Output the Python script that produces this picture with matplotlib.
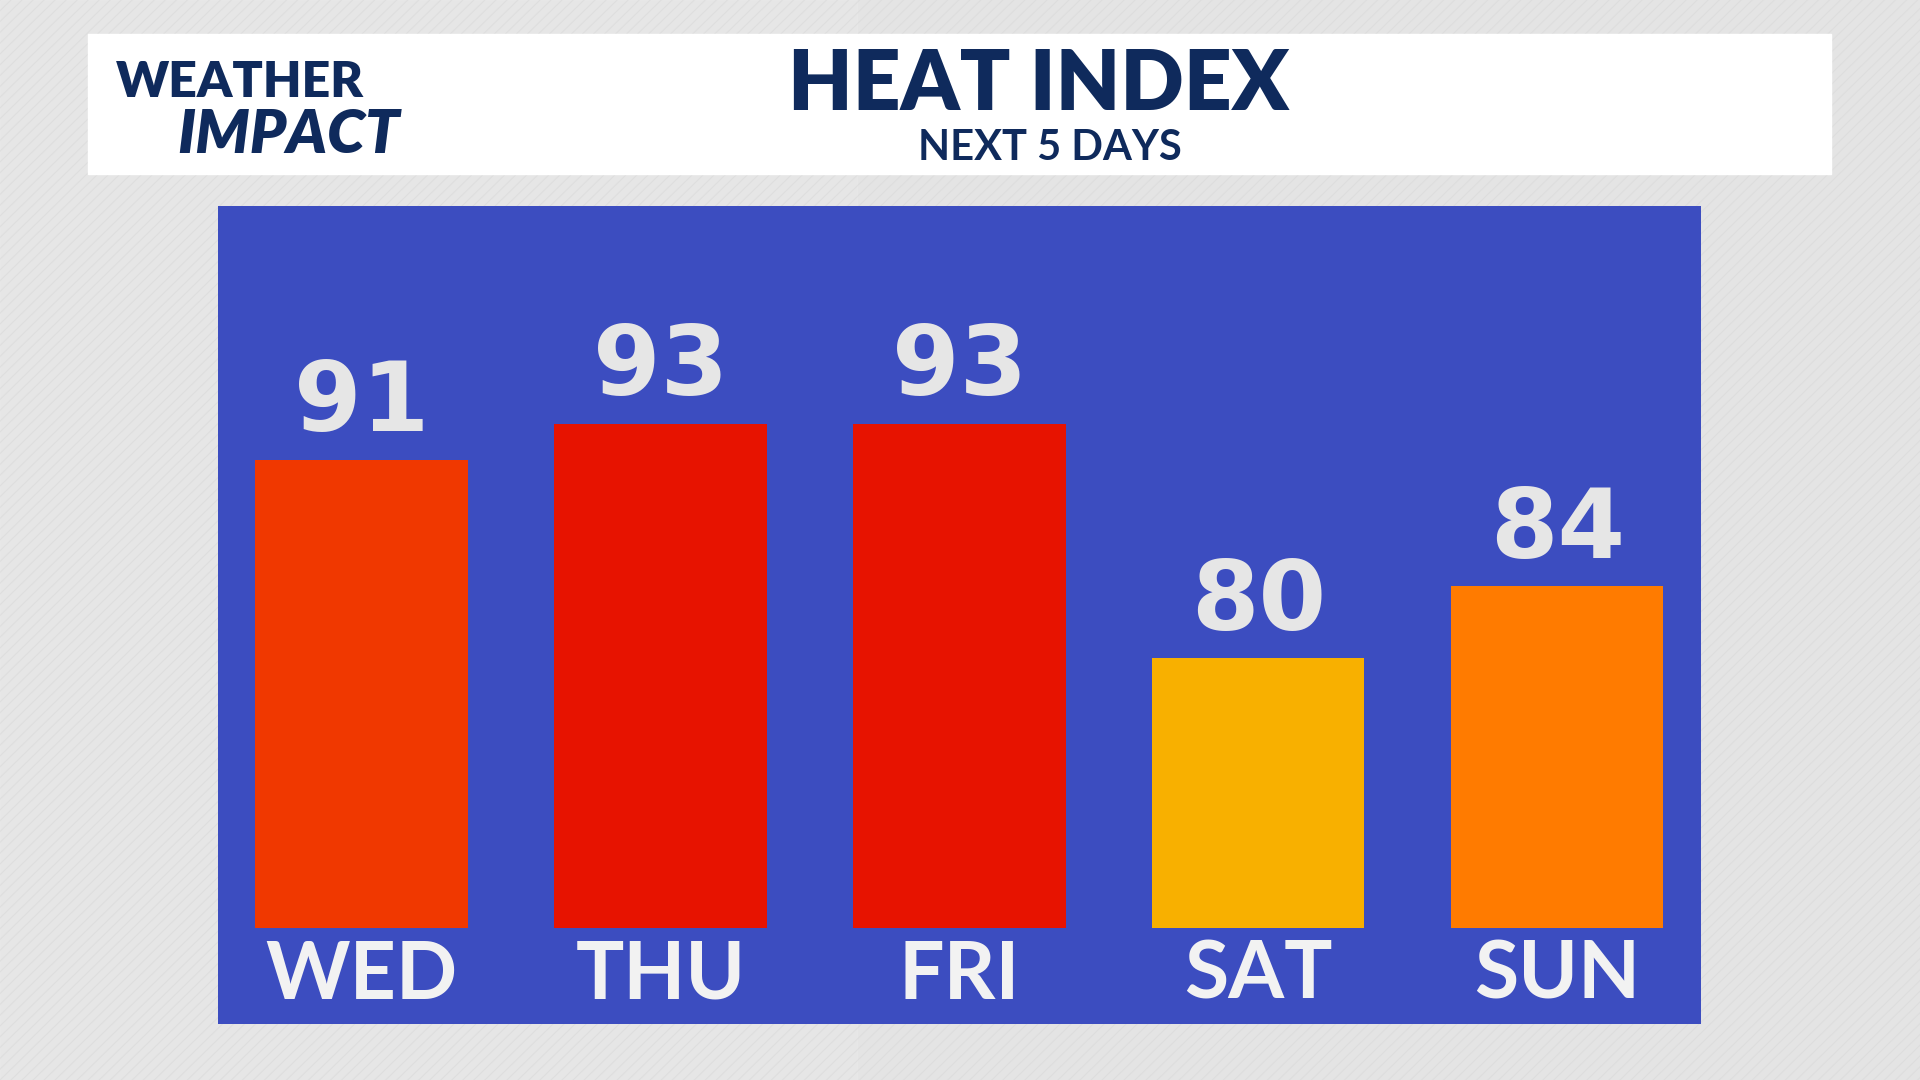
import matplotlib
matplotlib.use("Agg")
import matplotlib.pyplot as plt
from matplotlib.patches import Rectangle

days = ["WED", "THU", "FRI", "SAT", "SUN"]
values = [91, 93, 93, 80, 84]
colors = ["#F03800", "#E71300", "#E71300", "#F8B000", "#FF7B00"]

W, H = 1568, 882
fig = plt.figure(figsize=(19.2, 10.8), dpi=100)
fig.patch.set_facecolor("#E4E4E4")

def fx(px): return px / W
def fy(py): return 1 - py / H

bg = fig.add_axes([0, 0, 1, 1], zorder=0)
bg.set_xlim(0, W); bg.set_ylim(H, 0); bg.axis("off")
for s in range(-900, 1600, 9):
    bg.plot([s, s + 900], [H, 0], color="#D9D9D9", lw=0.8, alpha=0.6)
bg.add_patch(Rectangle((0, 0), 700, H, color="#E8E8E8", alpha=0.7))

bg.add_patch(Rectangle((72, 28), 1423, 114, color="white", zorder=2))
fig.text(fx(848), fy(70), "HEAT INDEX", ha="center", va="center", fontsize=60,
         fontweight="heavy", color="#0F2A5C", family="Lato", zorder=3)
fig.text(fx(857), fy(121), "NEXT 5 DAYS", ha="center", va="center", fontsize=30,
         fontweight="bold", color="#0F2A5C", family="Lato", zorder=3)
fig.text(fx(95), fy(67), "WEATHER", ha="left", va="center", fontsize=36,
         fontweight="heavy", color="#0F2A5C", family="Lato", zorder=3)
fig.text(fx(145), fy(110), "IMPACT", ha="left", va="center", fontsize=44,
         fontweight="heavy", style="italic", color="#0F2A5C", family="Lato", zorder=3)

ax = fig.add_axes([fx(178), fy(836), fx(1389) - fx(178), (836 - 168) / H], zorder=1)
ax.set_facecolor("#3C4DC0")
x = list(range(len(days)))
ax.bar(x, [v - 65 for v in values], bottom=65, width=0.71, color=colors)
ax.set_xlim(-0.48, 4.48)
ax.set_ylim(59.7, 105.1)
for xi, v in zip(x, values):
    ax.annotate(str(v), (xi, v), xytext=(0, 6), textcoords="offset points",
                ha="center", va="bottom", fontsize=70, fontweight="bold",
                color="#E6E6E6", family="DejaVu Sans")
for xi, d in zip(x, days):
    ax.text(xi, 62.35, d, ha="center", va="center", fontsize=58,
            fontweight="bold", color="#F2F2F2", family="Lato")
ax.set_xticks([]); ax.set_yticks([])
for sp in ax.spines.values():
    sp.set_visible(False)

fig.savefig("out.png", dpi=100, facecolor=fig.get_facecolor())
